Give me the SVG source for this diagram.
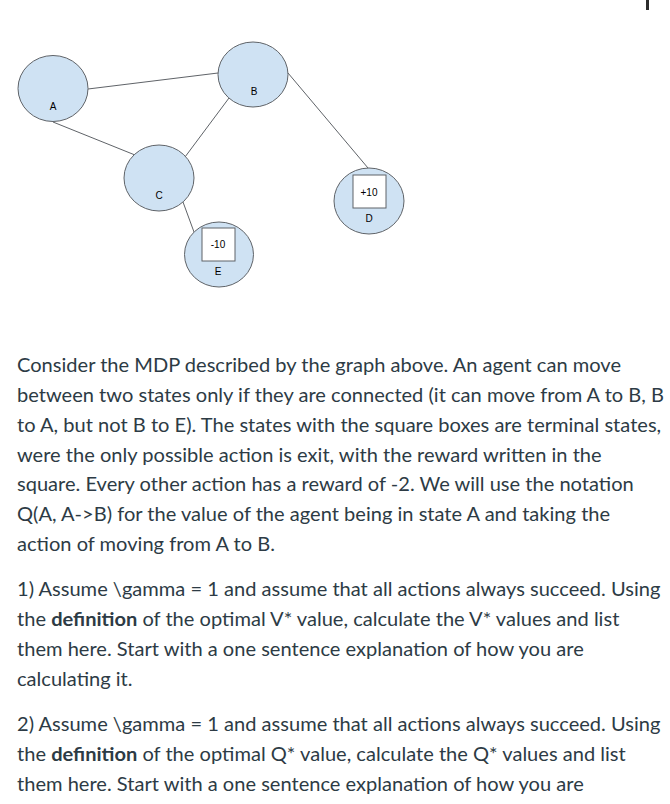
<svg xmlns="http://www.w3.org/2000/svg" width="670" height="804" viewBox="0 0 670 804">
<style>
.st{fill:#cfe2f3;stroke:#5f6368;stroke-width:1}
.bx{fill:#ffffff;stroke:#5f6368;stroke-width:1}
.lb{font-family:"Liberation Sans",Arial,sans-serif;font-size:10px;fill:#000;text-anchor:middle}
.ed{stroke:#5f6368;stroke-width:1;fill:none}
.tx{font-family:Lato,"Liberation Sans",sans-serif;font-size:19.4px;fill:#2d3b45}
.b{font-weight:bold}
</style>
<rect width="670" height="804" fill="#ffffff"/>
<rect x="646" y="0" width="3" height="10" fill="#2d2d2d"/>
<g id="connectors">
<line class="ed" x1="88" y1="89" x2="218" y2="73"/>
<line class="ed" x1="53" y1="122" x2="135" y2="155"/>
<line class="ed" x1="229" y1="98" x2="185" y2="157"/>
<line class="ed" x1="183" y1="202" x2="194" y2="232"/>
<line class="ed" x1="288" y1="73" x2="368" y2="168"/>
</g>
<g id="A"><ellipse class="st" cx="53" cy="88.5" rx="35" ry="33"/><text class="lb" x="53" y="110">A</text></g>
<g id="B"><ellipse class="st" cx="253" cy="74.5" rx="35" ry="32.5"/><text class="lb" x="254" y="95">B</text></g>
<g id="C"><ellipse class="st" cx="159" cy="178" rx="35" ry="33"/><text class="lb" x="159" y="199">C</text></g>
<g id="D"><ellipse class="st" cx="369" cy="201" rx="35" ry="33"/><rect class="bx" x="353" y="175" width="33" height="33"/><text class="lb" x="369" y="196">+10</text><text class="lb" x="369" y="222">D</text></g>
<g id="E"><ellipse class="st" cx="219" cy="254.5" rx="34.5" ry="32.5"/><rect class="bx" x="202" y="228" width="33" height="33"/><text class="lb" x="218" y="248">-10</text><text class="lb" x="218" y="275">E</text></g>
<g id="body" class="tx" transform="translate(17,0) scale(1.035,1) translate(-17,0)">
<text x="17" y="372">Consider the MDP described by the graph above. An agent can move</text>
<text x="17" y="402">between two states only if they are connected (it can move from A to B, B</text>
<text x="17" y="432">to A, but not B to E). The states with the square boxes are terminal states,</text>
<text x="17" y="462">were the only possible action is exit, with the reward written in the</text>
<text x="17" y="491">square. Every other action has a reward of -2. We will use the notation</text>
<text x="17" y="521">Q(A, A-&gt;B) for the value of the agent being in state A and taking the</text>
<text x="17" y="551">action of moving from A to B.</text>
<text x="17" y="596">1) Assume \gamma = 1 and assume that all actions always succeed. Using</text>
<text x="17" y="626">the <tspan class="b">definition</tspan> of the optimal V* value, calculate the V* values and list</text>
<text x="17" y="656">them here. Start with a one sentence explanation of how you are</text>
<text x="17" y="686">calculating it.</text>
<text x="17" y="731">2) Assume \gamma = 1 and assume that all actions always succeed. Using</text>
<text x="17" y="761">the <tspan class="b">definition</tspan> of the optimal Q* value, calculate the Q* values and list</text>
<text x="17" y="791">them here. Start with a one sentence explanation of how you are</text>
</g>
</svg>
